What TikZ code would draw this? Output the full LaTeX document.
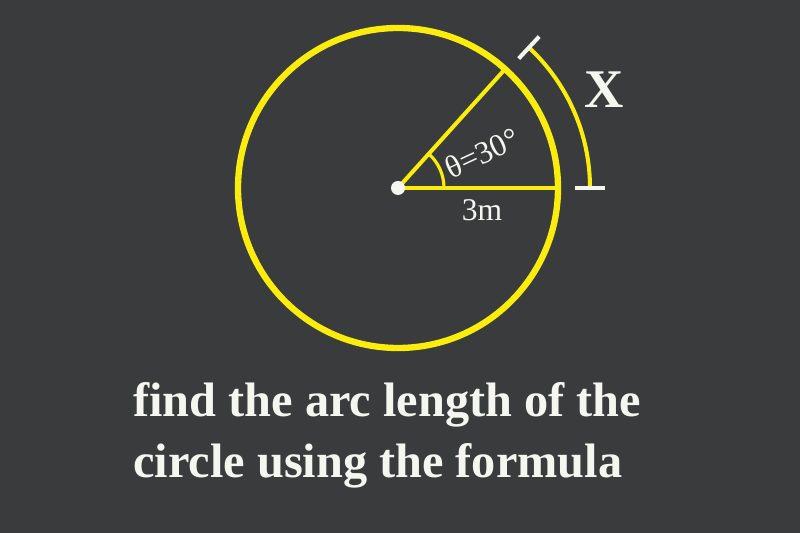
\documentclass[tikz,border=0pt]{standalone}
\usepackage{fontspec}
\setmainfont{Liberation Serif}
\usepackage{tikz}
\usetikzlibrary{positioning, calc}
\definecolor{board}{RGB}{58,59,61}
\definecolor{chalkyellow}{RGB}{250,236,12}
\definecolor{chalkwhite}{RGB}{246,246,240}
\tikzset{yline/.style={chalkyellow, line width=2.3pt},
         label text/.style={text=chalkwhite, inner sep=0pt}}

\begin{document}
\begin{tikzpicture}[x=0.02cm, y=0.02cm]
                    \fill[board] (0,0) rectangle (800,533);
                    \useasboundingbox (0,0) rectangle (800,533);
                    \coordinate (O) at (398,345);
                    \draw[chalkyellow, line width=3.6pt] (O) circle (160);
                    \draw[yline] (O) -- ++(0:160) coordinate (R);
                    \draw[yline] (O) -- ++(48:160) coordinate (S);
                    \draw[chalkyellow, line width=1.8pt] ($(O)+(0:46)$) arc (0:48:46);
                    \draw[yline] ($(O)+(0:192)$) coordinate (A) arc (0:47:192) coordinate (B);
                    \draw[chalkwhite, line width=2.3pt] ($(O)+(0:177)$) -- ($(O)+(0:207)$);
                    \draw[chalkwhite, line width=2.3pt] ($(O)+(47:177)$) -- ($(O)+(47:207)$);
                    \fill[chalkwhite] (O) circle (7);
                    \node[label text, font=\fontsize{18}{20}\selectfont, rotate=25] (theta) at (482,380) {θ=30°};
                    \node[label text, font=\fontsize{18}{20}\selectfont] (rad) at (482,323) {3m};
                    \node[label text, font=\fontsize{31}{33}\selectfont\bfseries] (arcx) at (604,443) {X};
                    \node[label text, anchor=base west, font=\fontsize{27.5}{33}\selectfont\bfseries] (line1) at (133,116) {find the arc length of the};
                    \node[label text, anchor=base west, font=\fontsize{27.5}{33}\selectfont\bfseries] (line2) at (133,55) {circle using the formula};
                \end{tikzpicture}
\end{document}
